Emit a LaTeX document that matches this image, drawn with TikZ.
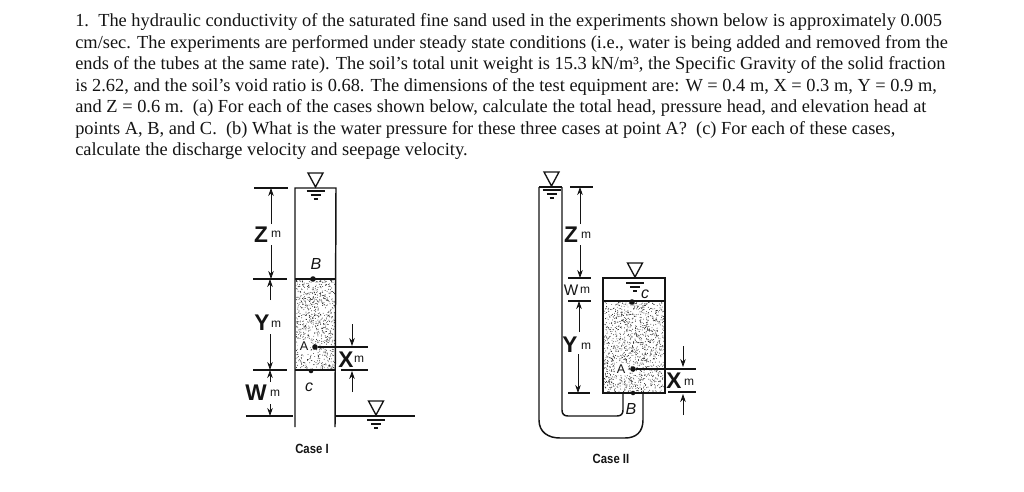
\documentclass[tikz,border=0pt]{standalone}
\usepackage{fontspec}
\setmainfont{Liberation Serif}
\setsansfont{Liberation Sans}
\usetikzlibrary{arrows.meta}
\definecolor{ink}{HTML}{141414}
\tikzset{
  para/.style={anchor=west,inner sep=0pt,text=ink,font=\fontsize{13.8}{15}\selectfont},
  wall/.style={draw=ink,line width=1.1pt},
  thin line/.style={draw=ink,line width=0.8pt},
  dimarrow/.style={draw=ink,line width=0.6pt,-{Stealth[length=6pt,width=4.2pt]}},
  dimbig/.style={inner sep=0pt,text=ink,font=\sffamily\bfseries\fontsize{17}{17}\selectfont},
  dimsmall/.style={inner sep=0pt,text=ink,font=\sffamily\fontsize{9}{9}\selectfont},
  ptlabel/.style={inner sep=0pt,text=ink,font=\sffamily\itshape\fontsize{12}{12}\selectfont},
  sandlabel/.style={inner sep=1pt,fill=white,text=ink,font=\sffamily\fontsize{9.5}{9.5}\selectfont},
  caselabel/.style={inner sep=0pt,text=ink,xscale=0.85,font=\sffamily\bfseries\fontsize{10}{10}\selectfont},
  ptdot/.style={circle,fill=ink,inner sep=0pt,minimum size=4.2pt},
}
\newcommand{\watermark}[3]{%
  \draw[ink,line width=1pt,fill=white] (#1-7.5,#2-14) -- (#1+7.5,#2-14) -- (#1,#2) -- cycle;
  \draw[ink,line width=0.8pt] (#1-9,#3) -- (#1+9,#3) (#1-5,#3+4) -- (#1+5,#3+4) (#1-2,#3+8) -- (#1+2,#3+8);
}
\newcommand{\stipple}[6]{%
  \pgfmathsetseed{#5}
  \foreach \i in {1,...,#6}{
    \pgfmathsetmacro{\px}{#1+(#3-#1)*rnd}
    \pgfmathsetmacro{\py}{#2+(#4-#2)*rnd}
    \fill[ink] (\px,\py) circle (0.33pt);
  }
}
\begin{document}
\begin{tikzpicture}[x=0.75pt,y=-0.75pt]
\useasboundingbox (0,0) rectangle (1024,492);
% problem text
\node[para] (l1) at (75,22.5) {1.\ \ The hydraulic conductivity of the saturated fine sand used in the experiments shown below is approximately 0.005};
\node[para] (l2) at (75,44) {cm/sec. The experiments are performed under steady state conditions (i.e., water is being added and removed from the};
\node[para] (l3) at (75,65) {ends of the tubes at the same rate). The soil’s total unit weight is 15.3 kN/m³, the Specific Gravity of the solid fraction};
\node[para] (l4) at (75,86.5) {is 2.62, and the soil’s void ratio is 0.68. The dimensions of the test equipment are: W = 0.4 m, X = 0.3 m, Y = 0.9 m,};
\node[para] (l5) at (75,108) {and Z = 0.6 m.\ \ (a) For each of the cases shown below, calculate the total head, pressure head, and elevation head at};
\node[para] (l6) at (75,129.5) {points A, B, and C.\ \ (b) What is the water pressure for these three cases at point A?\ \ (c) For each of these cases,};
\node[para] (l7) at (75,151) {calculate the discharge velocity and seepage velocity.};

% ---- Case I ----
\stipple{296}{280}{335}{370}{11}{800}
\draw[wall] (295,427) -- (295,188) -- (336,188) -- (335,427);
\draw[wall] (295,279) -- (336,279);
\draw[wall] (295,370) -- (335,370);
\watermark{315.5}{187}{191}
\draw[thin line] (246,416) -- (293,416);
\draw[thin line] (336,416) -- (415,416);
\watermark{376}{415}{420}
\draw[thin line] (254,188) -- (288,188);
\draw[thin line] (253,279) -- (287,279);
\draw[thin line] (253,370) -- (287,370);
\coordinate (zt) at (271,188); \coordinate (zb) at (271,279);
\coordinate (yt) at (270,279); \coordinate (yb) at (270,370);
\coordinate (wt) at (270,370); \coordinate (wb) at (270,416);
\node[dimbig] (zi) at (261,235) {Z}; \node[dimsmall] (zim) at (276,234) {m};
\node[dimbig] (yi) at (262,323) {Y}; \node[dimsmall] (yim) at (276,324) {m};
\node[dimbig] (wi) at (256,393) {W}; \node[dimsmall] (wim) at (275,393) {m};
\draw[dimarrow] (271,224) -- (zt);
\draw[dimarrow] (271,245) -- (zb);
\draw[dimarrow] (270,300) -- (yt);
\draw[dimarrow] (270,334) -- (yb);
\draw[dimarrow] (270,382) -- (wt);
\draw[dimarrow] (270,404) -- (wb);
\node[ptdot] (bi) at (313,279) {};
\node[ptlabel] (bil) at (316,264) {B};
\node[ptdot] (ai) at (315,347) {};
\node[sandlabel] (ail) at (304,346) {A};
\node[ptdot,minimum size=3.4pt] (ci) at (311,371) {};
\node[ptlabel] (cil) at (309,387) {c};
\coordinate (xi1) at (368,347); \coordinate (xi2) at (368,370);
\draw[thin line] (ai) -- (xi1);
\draw[thin line] (341,370) -- (xi2);
\draw[dimarrow] (352,324) -- (352,346);
\draw[dimarrow] (352,392) -- (352,371);
\node[dimbig] (xil) at (346,360) {X}; \node[dimsmall] (xim) at (359,359) {m};
\node[caselabel] (ci1) at (312,449) {Case I};

% ---- Case II ----
\stipple{604}{302}{664}{392}{23}{1250}
\draw[wall] (603,393) -- (603,278) -- (665,278) -- (665,393) -- cycle;
\draw[wall] (603,301) -- (665,301);
\draw[wall] (539,187) -- (562,187);
\draw[wall] (539,187) -- (539,420) .. controls (539,432) and (548,438) .. (560,438) -- (625,438) .. controls (636,438) and (643,432) .. (643,420) -- (643,393);
\draw[wall] (562,187) -- (562,410) .. controls (562,414) and (564,416) .. (568,416) -- (617,416) .. controls (621,416) and (623,414) .. (623,410) -- (623,393);
\watermark{551.5}{186}{190}
\watermark{635}{277}{283}
\draw[thin line] (570,187) -- (593,187);
\draw[thin line] (568,278) -- (591,278);
\draw[thin line] (568,301) -- (591,301);
\draw[thin line] (568,393) -- (590,393);
\coordinate (zt2) at (580,187); \coordinate (zb2) at (580,278);
\coordinate (yt2) at (579,301); \coordinate (yb2) at (578,393);
\node[dimbig] (zii) at (571,235) {Z}; \node[dimsmall] (ziim) at (586,235) {m};
\node[dimbig,font=\sffamily\fontsize{11.5}{11.5}\selectfont] (wii) at (571,290) {W}; \node[dimsmall] (wiim) at (585,290) {m};
\node[dimbig] (yii) at (570,345) {Y}; \node[dimsmall] (yiim) at (586,346) {m};
\draw[dimarrow] (580,224) -- (zt2);
\draw[dimarrow] (580,245) -- (zb2);
\draw[dimarrow] (579,332) -- (yt2);
\draw[dimarrow] (578,354) -- (yb2);
\node[ptdot] (cii) at (632,302) {};
\node[ptlabel] (ciil) at (645,294) {c};
\node[ptdot] (aii) at (633,369) {};
\node[sandlabel] (aiil) at (621,369) {A};
\node[ptdot,minimum size=3.4pt] (bii) at (633,393) {};
\node[ptlabel] (biil) at (631,409) {B};
\coordinate (xii1) at (696,369); \coordinate (xii2) at (696,392);
\draw[thin line] (aii) -- (xii1);
\draw[thin line] (668,392) -- (xii2);
\draw[dimarrow] (683,346) -- (683,367);
\draw[dimarrow] (683,415) -- (683,394);
\node[dimbig] (xiil) at (674,381) {X}; \node[dimsmall] (xiim) at (689,382) {m};
\node[caselabel] (ci2) at (611,459) {Case II};
\end{tikzpicture}
\end{document}
